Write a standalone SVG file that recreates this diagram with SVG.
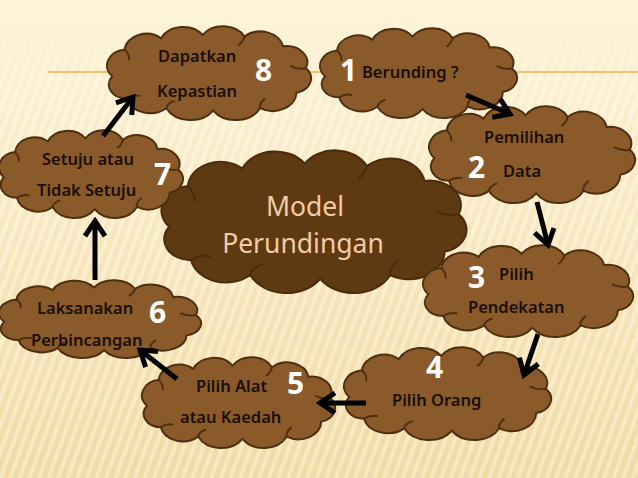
<svg xmlns="http://www.w3.org/2000/svg" xmlns:xlink="http://www.w3.org/1999/xlink" width="638" height="478" viewBox="0 0 638 478">
<defs>
<style>
.cl{fill:#8B5A2B;stroke:#4E2F10;stroke-width:2}
.cc{fill:#5E3A13;stroke:#4A2C0C;stroke-width:2}
.tx{font-family:"Noto Sans","DejaVu Sans",sans-serif;font-size:16.5px;font-weight:600;fill:#1A1008}
.nm{font-family:"Noto Sans","DejaVu Sans",sans-serif;font-size:30px;font-weight:bold;fill:#FFFFFF}
.ct{font-family:"Noto Sans","DejaVu Sans",sans-serif;font-size:26.5px;fill:#F4CBA5;text-anchor:middle}
.ar{fill:none;stroke:#000;stroke-width:5;stroke-linecap:butt}
</style>
<linearGradient id="bg" x1="0" y1="0" x2="0" y2="1">
<stop offset="0" stop-color="#FDF4D9"/>
<stop offset="0.15" stop-color="#FCF0D0"/>
<stop offset="1" stop-color="#F1DBA3"/>
</linearGradient>
<linearGradient id="fadeG" x1="0" y1="0" x2="0" y2="1">
<stop offset="0.05" stop-color="#000"/>
<stop offset="0.16" stop-color="#fff"/>
<stop offset="1" stop-color="#fff"/>
</linearGradient>
<mask id="fade" maskContentUnits="userSpaceOnUse"><rect width="638" height="478" fill="url(#fadeG)"/></mask>
<pattern id="stripes" width="9" height="9" patternUnits="userSpaceOnUse" patternTransform="rotate(20)">
<rect width="4" height="9" fill="#FFFFFF" fill-opacity="0.35"/>
</pattern>
<g id="cloud">
<path vector-effect="non-scaling-stroke" d="M8,55 A20,20 0 0 1 20,22 A21,21 0 0 1 55,8 A23,23 0 0 1 95,4 A23,23 0 0 1 135,6 A22,22 0 0 1 172,18 A20,20 0 0 1 194,45 A18,18 0 0 1 185,75 A23,23 0 0 1 150,94 A26,26 0 0 1 105,97 A26,26 0 0 1 60,94 A23,23 0 0 1 22,82 A17,17 0 0 1 8,55 Z"/>
<path vector-effect="non-scaling-stroke" fill="none" d="M20,22 Q25,28 24,35 M135,6 Q134,12 129,17 M194,45 Q186,47 179,42 M150,94 Q149,88 155,82 M60,94 Q61,88 68,85 M22,82 Q28,77 35,79"/>
</g>
<marker id="ah" viewBox="0 0 24 24" refX="20" refY="12" markerWidth="24" markerHeight="24" markerUnits="userSpaceOnUse" orient="auto">
<path d="M5,2 L20,12 L5,22" fill="none" stroke="#000" stroke-width="5" stroke-linejoin="miter"/>
</marker>
</defs>

<rect width="638" height="478" fill="url(#bg)"/>
<rect width="638" height="478" fill="url(#stripes)" mask="url(#fade)"/>
<line x1="48" y1="72" x2="638" y2="72" stroke="#F0B04E" stroke-width="1.5"/>

<g id="node-center">
<use xlink:href="#cloud" class="cc" transform="translate(156.77,158.67) scale(1.5567,1.2381)"/>
<text class="ct" x="305" y="216">Model</text>
<text class="ct" x="303" y="253">Perundingan</text>
</g>

<g id="node-8">
<use xlink:href="#cloud" class="cl" transform="translate(103.84,31.7) scale(1.0412,0.8139)"/>
<text class="tx" x="158" y="62">Dapatkan</text>
<text class="tx" x="157" y="97">Kepastian</text>
<text class="nm" x="255" y="81">8</text>
</g>

<g id="node-1">
<use xlink:href="#cloud" class="cl" transform="translate(316.98,33.45) scale(1.0052,0.7792)"/>
<text class="nm" x="340" y="81">1</text>
<text class="tx" x="362" y="78">Berunding ?</text>
</g>

<g id="node-2">
<use xlink:href="#cloud" class="cl" transform="translate(425.79,111.88) scale(1.0515,0.8398)"/>
<text class="tx" x="484" y="143">Pemilihan</text>
<text class="tx" x="503" y="177">Data</text>
<text class="nm" x="468" y="178">2</text>
</g>

<g id="node-7">
<use xlink:href="#cloud" class="cl" transform="translate(-3.75,135.33) scale(0.9381,0.7619)"/>
<text class="tx" x="42" y="165">Setuju atau</text>
<text class="tx" x="37" y="196">Tidak Setuju</text>
<text class="nm" x="154" y="185">7</text>
</g>

<g id="node-3">
<use xlink:href="#cloud" class="cl" transform="translate(419.71,250.58) scale(1.0722,0.7965)"/>
<text class="nm" x="468" y="288">3</text>
<text class="tx" x="499" y="280">Pilih</text>
<text class="tx" x="468" y="313">Pendekatan</text>
</g>

<g id="node-6">
<use xlink:href="#cloud" class="cl" transform="translate(-4.12,284.73) scale(1.0309,0.6753)"/>
<text class="tx" x="37" y="314">Laksanakan</text>
<text class="tx" x="31" y="346">Perbincangan</text>
<text class="nm" x="149" y="323">6</text>
</g>

<g id="node-5">
<use xlink:href="#cloud" class="cl" transform="translate(139.06,362.52) scale(0.9845,0.7879)"/>
<text class="tx" x="196" y="392">Pilih Alat</text>
<text class="tx" x="180" y="423">atau Kaedah</text>
<text class="nm" x="287" y="394">5</text>
</g>

<g id="node-4">
<use xlink:href="#cloud" class="cl" transform="translate(340.77,352.64) scale(1.0567,0.8052)"/>
<text class="nm" x="426" y="378">4</text>
<text class="tx" x="392" y="406">Pilih Orang</text>
</g>

<g id="connectors">
<line class="ar" x1="466" y1="95" x2="510" y2="114" marker-end="url(#ah)"/>
<line class="ar" x1="537" y1="202" x2="548" y2="245" marker-end="url(#ah)"/>
<line class="ar" x1="538" y1="334" x2="524" y2="375" marker-end="url(#ah)"/>
<line class="ar" x1="366" y1="403" x2="320" y2="403" marker-end="url(#ah)"/>
<line class="ar" x1="177" y1="379" x2="140" y2="350" marker-end="url(#ah)"/>
<line class="ar" x1="95" y1="280" x2="95" y2="221" marker-end="url(#ah)"/>
<line class="ar" x1="103" y1="136" x2="133" y2="97" marker-end="url(#ah)"/>
</g>
</svg>
